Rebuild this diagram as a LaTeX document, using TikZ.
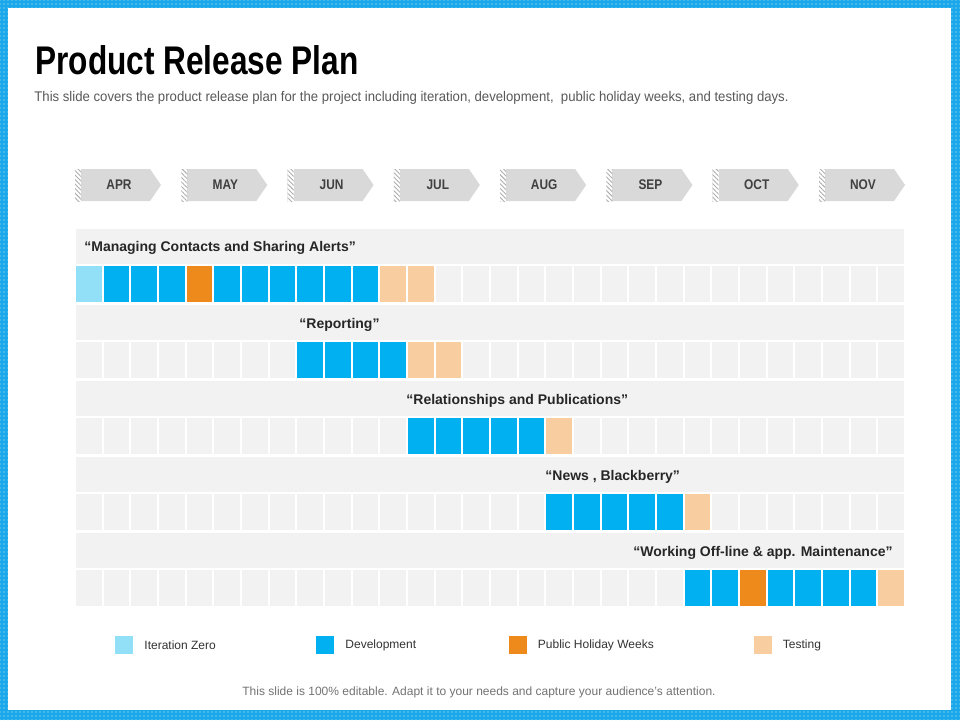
\documentclass[tikz,border=0pt]{standalone}
\usepackage{fontspec}
\setmainfont{Liberation Sans}
\newfontfamily\titlefont[FakeStretch=0.79]{Liberation Sans Bold}
\newfontfamily\narrowfont[FakeStretch=0.94]{Liberation Sans}
\newfontfamily\monthfont[FakeStretch=0.85]{Liberation Sans Bold}
\newfontfamily\labelfont{Liberation Sans Bold}
\usepackage{tikz}
\usetikzlibrary{positioning,patterns.meta}

\definecolor{framebl}{HTML}{1AA8E8}
\definecolor{devblue}{HTML}{00B0F0}
\definecolor{iterblue}{HTML}{92DFF8}
\definecolor{holiday}{HTML}{EE8A1C}
\definecolor{testing}{HTML}{F8CDA0}
\definecolor{cellgray}{HTML}{F2F2F2}
\definecolor{monthgray}{HTML}{D9D9D9}

\tikzset{
  cell/.style={fill=#1, draw=white, line width=1pt},
  band/.style={fill=cellgray, draw=white, line width=1pt},
  monthtag/.style={fill=monthgray},
  monthtext/.style={font=\monthfont\fontsize{7}{8}\selectfont, text=black!75},
  tasklabel/.style={font=\labelfont\fontsize{7}{8}\selectfont, text=black!85, inner sep=0pt},
  keybox/.style={fill=#1, minimum size=9pt, inner sep=0pt},
  keytext/.style={font=\fontsize{6}{7}\selectfont, text=black!80, right=2pt of #1},
}

\begin{document}
\begin{tikzpicture}[x=0.5pt, y=-0.5pt]
  \useasboundingbox (0,0) rectangle (960,720);
  % frame
  \fill[framebl] (0,0) rectangle (960,720);
  \fill[pattern={Dots[distance=2pt, radius=0.3pt]}, pattern color=white!80!framebl] (0,0) rectangle (960,720);
  \fill[white] (8,8) rectangle (951,710);

  % heading
  \node[anchor=base west, inner sep=0pt, font=\titlefont\fontsize{20}{24}\selectfont] (title) at (35,74) {Product Release Plan};
  \node[anchor=base west, inner sep=0pt, text=black!65, font=\narrowfont\fontsize{7}{8}\selectfont] (subtitle) at (34,101)
    {This slide covers the product release plan for the project including iteration, development, \ public holiday weeks, and testing days.};

  % months
  \foreach \m [count=\i from 0] in {APR,MAY,JUN,JUL,AUG,SEP,OCT,NOV} {
    \coordinate (m-\i) at ({75+106.29*\i},169);
    \fill[monthtag] (m-\i) -- ++(75,0) -- ++(11,16) -- ++(-11,16) -- ++(-75,0) -- cycle;
    \fill[white] (m-\i) rectangle ++(6,32);
    \fill[pattern={Lines[angle=-45, distance=1.6pt, line width=0.45pt]}, pattern color=monthgray!80!black] (m-\i) rectangle ++(6,32);
    \node[monthtext] (month-\i) at ([shift={(44,16)}]m-\i) {\m};
  }

  % grid
  \foreach \r in {0,...,4} {
    \draw[band] (75,{228+76*\r}) rectangle (905,{265+76*\r});
    \foreach \k in {0,...,29}
      \draw[cell=cellgray] ({75+27.6667*\k},{265+76*\r}) rectangle ++(27.6667,38);
  }
  \foreach \r/\a/\b/\c in {0/0/0/iterblue, 0/1/3/devblue, 0/4/4/holiday, 0/5/10/devblue, 0/11/12/testing,
                           1/8/11/devblue, 1/12/13/testing,
                           2/12/16/devblue, 2/17/17/testing,
                           3/17/21/devblue, 3/22/22/testing,
                           4/22/23/devblue, 4/24/24/holiday, 4/25/28/devblue, 4/29/29/testing}
    \foreach \k in {\a,...,\b}
      \draw[cell=\c] ({75+27.6667*\k},{265+76*\r}) rectangle ++(27.6667,38);

  % tasks
  \node[tasklabel, anchor=west] (task-1) at (84,247.5) {“Managing Contacts and Sharing Alerts”};
  \node[tasklabel, anchor=west] (task-2) at (299,324.5) {“Reporting”};
  \node[tasklabel, anchor=west] (task-3) at (406,400.5) {“Relationships and Publications”};
  \node[tasklabel, anchor=west] (task-4) at (545,476.5) {“News , Blackberry”};
  \node[tasklabel, anchor=east] (task-5) at (893,552.5) {“Working Off-line \& app. Maintenance”};

  % legend
  \node[keybox=iterblue] (key-iter) at (124,645) {};
  \node[keytext=key-iter] (txt-iter) {Iteration Zero};
  \node[keybox=devblue] (key-dev) at (325,645) {};
  \node[keytext=key-dev] (txt-dev) {Development};
  \node[keybox=holiday] (key-hol) at (517.5,645) {};
  \node[keytext=key-hol] (txt-hol) {Public Holiday Weeks};
  \node[keybox=testing] (key-test) at (762.5,645) {};
  \node[keytext=key-test] (txt-test) {Testing};

  \node[text=black!55, font=\fontsize{6}{7}\selectfont] (footer) at (479,692)
    {This slide is 100\% editable. Adapt it to your needs and capture your audience’s attention.};
\end{tikzpicture}
\end{document}
